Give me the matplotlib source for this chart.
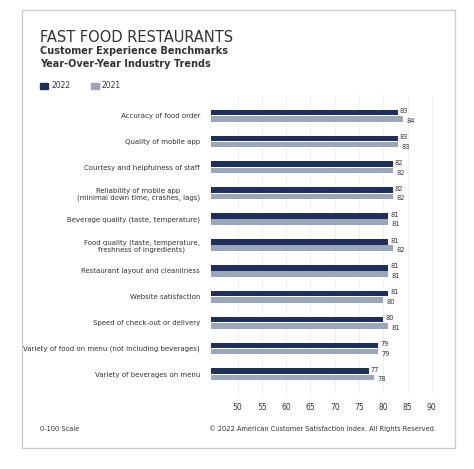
import matplotlib
matplotlib.use("Agg")
import matplotlib.pyplot as plt
from matplotlib.patches import Rectangle
import numpy as np

categories = ["Accuracy of food order", "Quality of mobile app", "Courtesy and helpfulness of staff",
              "Reliability of mobile app\n(minimal down time, crashes, lags)",
              "Beverage quality (taste, temperature)",
              "Food quality (taste, temperature,\nfreshness of ingredients)",
              "Restaurant layout and cleanliness", "Website satisfaction",
              "Speed of check-out or delivery", "Variety of food on menu (not including beverages)",
              "Variety of beverages on menu"]
v2022 = [83, 83, 82, 82, 81, 81, 81, 81, 80, 79, 77]
v2021 = [84, 83, 82, 82, 81, 82, 81, 80, 81, 79, 78]
ticks = [50, 55, 60, 65, 70, 75, 80, 85, 90]

W, H = 474, 469
fig = plt.figure(figsize=(W/100, H/100), dpi=100)
fig.patches.append(Rectangle((22/W, 1-448/H), (455-22)/W, (448-10)/H, transform=fig.transFigure,
                             fill=False, edgecolor="#cccccc", lw=1))
c22, c21 = "#1f2f5c", "#9aa7b8"
ax = fig.add_axes([211/W, 1-395/H, 232/W, 300/H])
y = np.arange(len(categories))
bh = 0.22
ax.barh(y - bh/2 - 0.01, [v - 44.5 for v in v2022], left=44.5, height=bh, color=c22)
ax.barh(y + bh/2 + 0.01, [v - 44.5 for v in v2021], left=44.5, height=bh, color=c21)
for i in range(len(y)):
    ax.text(v2022[i] + 0.4, y[i] - 0.17, str(v2022[i]), fontsize=4.8, va="center", color="#333")
    ax.text(v2021[i] + 0.7, y[i] + 0.2, str(v2021[i]), fontsize=4.8, va="center", color="#333")
ax.set_xlim(44.5, 92.3)
ax.set_ylim(len(y) - 0.2, -0.8)
ax.set_yticks(y)
ax.set_yticklabels(categories, fontsize=5, color="#333", linespacing=1.1, ha="right",
                   multialignment="center")
ax.tick_params(axis="y", length=0, pad=8)
ax.set_xticks(ticks)
ax.set_xticklabels([str(t) for t in ticks], fontsize=5.5, color="#333")
ax.tick_params(axis="x", length=0, pad=6)
ax.grid(axis="x", color="#eeeeee", lw=0.6)
ax.set_axisbelow(True)
for s in ax.spines.values():
    s.set_visible(False)

fig.text(40/W, 1-37/H, "FAST FOOD RESTAURANTS", fontsize=10.5, color="#333", va="center")
fig.text(40/W, 1-51/H, "Customer Experience Benchmarks", fontsize=7, weight="bold", color="#333", va="center")
fig.text(40/W, 1-64/H, "Year-Over-Year Industry Trends", fontsize=7, weight="bold", color="#333", va="center")
fig.patches.append(Rectangle((40/W, 1-89/H), 8/W, 6/H, transform=fig.transFigure, color=c22))
fig.text(51/W, 1-86/H, "2022", fontsize=5.5, color="#333", va="center")
fig.patches.append(Rectangle((91/W, 1-89/H), 8/W, 6/H, transform=fig.transFigure, color=c21))
fig.text(102/W, 1-86/H, "2021", fontsize=5.5, color="#333", va="center")
fig.text(40/W, 1-429/H, "0-100 Scale", fontsize=4.8, color="#333", va="center")
fig.text(436/W, 1-429/H, "© 2022 American Customer Satisfaction Index. All Rights Reserved.",
         fontsize=4.8, color="#333", va="center", ha="right")
fig.savefig("out.png", dpi=100)
